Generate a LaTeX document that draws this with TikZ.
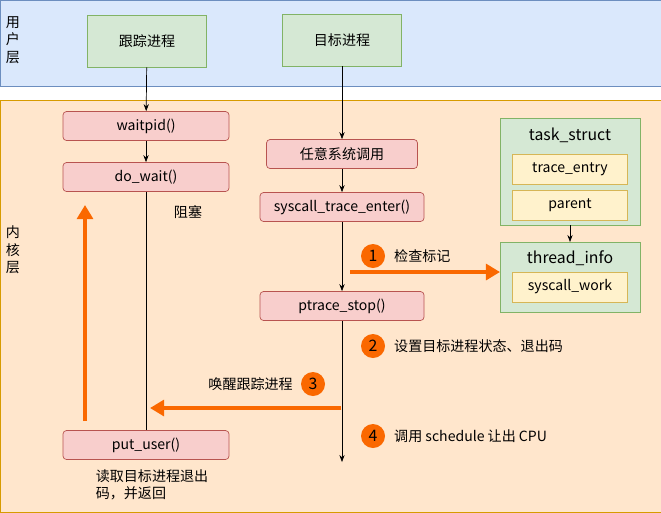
\documentclass[tikz,border=0pt]{standalone}
\usepackage{fontspec}
\setmainfont{Noto Sans CJK SC}
\usetikzlibrary{arrows.meta}
\definecolor{userfill}{HTML}{DAE8FC}
\definecolor{userline}{HTML}{6C8EBF}
\definecolor{kernfill}{HTML}{FFE6CC}
\definecolor{kernline}{HTML}{D79B00}
\definecolor{procfill}{HTML}{D5E8D4}
\definecolor{procline}{HTML}{82B366}
\definecolor{funcfill}{HTML}{F8CECC}
\definecolor{funcline}{HTML}{B85450}
\definecolor{fieldfill}{HTML}{FFF2CC}
\definecolor{fieldline}{HTML}{D6B656}
\definecolor{mark}{HTML}{FA6800}
\tikzset{
  proc/.style={draw=procline,fill=procfill,minimum width=119*0.02cm,minimum height=52*0.02cm},
  func/.style={draw=funcline,fill=funcfill,rounded corners=2pt,minimum height=29*0.02cm},
  field/.style={draw=fieldline,fill=fieldfill,minimum width=115*0.02cm,minimum height=30*0.02cm},
  badge/.style={circle,fill=mark,text=black,inner sep=0pt,minimum size=24*0.02cm,font=\fontsize{9}{9}\selectfont},
  flow/.style={-{Stealth[length=4pt]}},
  hot/.style={draw=mark,line width=2.2pt,-{Triangle[length=8pt,width=9pt]}}
}
\begin{document}
\begin{tikzpicture}[x=0.02cm,y=-0.02cm,font=\fontsize{8}{10}\selectfont]
   \useasboundingbox (0,0) rectangle (661,512);
   % layers
   \draw[userline,fill=userfill] (0,0) rectangle (661,86);
   \draw[kernline,fill=kernfill] (0,100) rectangle (661,512);
   \node[align=center] (user) at (13,40) {用\\户\\层};
   \node[align=center] (kern) at (13,250) {内\\核\\层};

   % processes
   \node[proc] (tracer) at (147,41) {跟踪进程};
   \node[proc] (tracee) at (342,40) {目标进程};

   % tracer side
   \node[func,minimum width=166*0.02cm] (waitpid) at (146,126) {waitpid()};
   \node[func,minimum width=166*0.02cm] (dowait) at (146,177) {do\_wait()};
   \node (block) at (188,212) {阻塞};
   \node[func,minimum width=166*0.02cm] (putuser) at (146,445) {put\_user()};
   \node[align=left] (readback) at (152,485) {读取目标进程退出\\码，并返回};

   % tracee side
   \node[func,minimum width=151*0.02cm] (anysys) at (342,154) {任意系统调用};
   \node[func,minimum width=164*0.02cm] (enter) at (342,207) {syscall\_trace\_enter()};
   \node[func,minimum width=164*0.02cm] (stop) at (342,306) {ptrace\_stop()};
   \coordinate (tail) at (342,462);

   % structures
   \draw[procline,fill=procfill] (500,118) rectangle (640,225);
   \node[font=\fontsize{9}{10}\selectfont] (task) at (570,135) {task\_struct};
   \node[field] (entry) at (570,169) {trace\_entry};
   \node[field] (parent) at (570,205) {parent};
   \draw[procline,fill=procfill] (500,242) rectangle (640,312);
   \node[font=\fontsize{9}{10}\selectfont] (thread) at (570,258) {thread\_info};
   \node[field] (work) at (570,287) {syscall\_work};
   \coordinate (tsbot) at (570,225);
   \coordinate (titop) at (570,242);

   \draw[flow] (tracer) -- (waitpid);
   \draw[flow] (waitpid) -- (dowait);
   \draw (dowait) -- (putuser);
   \draw[flow] (tracee) -- (anysys);
   \draw[flow] (anysys) -- (enter);
   \draw[flow] (enter) -- (stop);
   \draw[flow] (stop) -- (tail);
   \draw[flow] (tsbot) -- (titop);

   % steps
   \coordinate (h1a) at (350,272);
   \coordinate (h1b) at (500,272);
   \draw[hot] (h1a) -- (h1b);
   \node[badge] (s1) at (373,256) {1};
   \node[anchor=west] (t1) at (388,256) {检查标记};
   \node[badge] (s2) at (373,346) {2};
   \node[anchor=west] (t2) at (388,346) {设置目标进程状态、退出码};
   \node[badge] (s3) at (313,384) {3};
   \node[anchor=east] (t3) at (299,384) {唤醒跟踪进程};
   \coordinate (h3a) at (341,408);
   \coordinate (h3b) at (150,408);
   \draw[hot] (h3a) -- (h3b);
   \node[badge] (s4) at (373,436) {4};
   \node[anchor=west] (t4) at (388,436) {调用 schedule 让出 CPU};
   \coordinate (upa) at (85,421);
   \coordinate (upb) at (85,205);
   \draw[hot] (upa) -- (upb);
\end{tikzpicture}
\end{document}
